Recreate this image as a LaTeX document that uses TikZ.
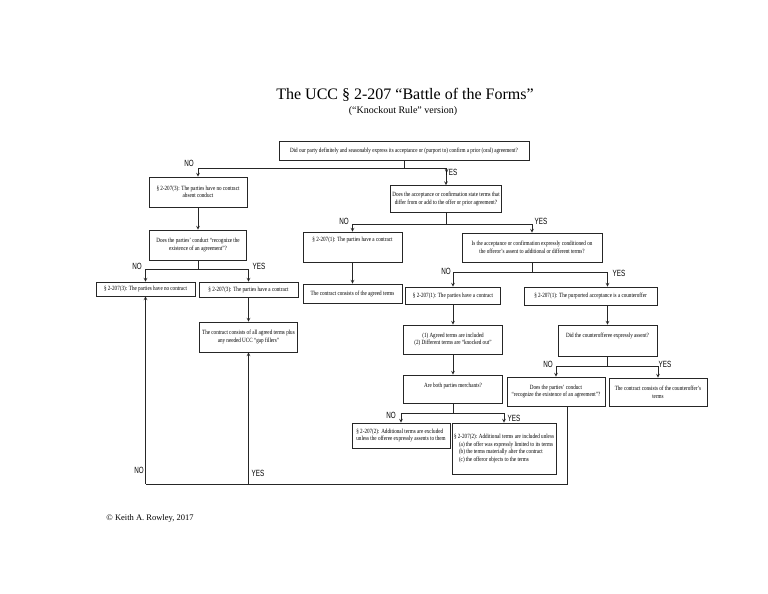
\documentclass[tikz,border=0pt]{standalone}
\usepackage{fontspec}
\setmainfont{Liberation Serif}
\newfontfamily\boxfont[FakeStretch=0.8]{Liberation Serif}
\newfontfamily\answerfont[FakeStretch=0.7]{Liberation Sans}
\usetikzlibrary{shapes,arrows,positioning,calc}

\begin{document}
\begin{tikzpicture}[
    x=1pt, y=-1pt,
    box/.style={rectangle, draw=black!85, line width=0.7pt, inner sep=2pt, align=center, font=\boxfont\fontsize{6.4}{7.6}\selectfont},
    link/.style={draw=black!85, line width=0.7pt},
    flow/.style={->, draw=black!85, line width=0.7pt, >=stealth},
    answer/.style={font=\answerfont\fontsize{9}{10}\selectfont, inner sep=0pt}
]
    \useasboundingbox (0,0) rectangle (768,594);

    % Title
    \node[font=\fontsize{16}{18}\selectfont] (title) at (405,95) {The UCC § 2-207 “Battle of the Forms”};
    \node[font=\fontsize{10}{12}\selectfont] (subtitle) at (403,111) {(“Knockout Rule” version)};

    % Questions and outcomes
    \node[box, minimum width=250pt, minimum height=19pt] (q1) at (404,150.5) {Did our party definitely and seasonably express its acceptance or (purport to) confirm a prior (oral) agreement?};
    \node[box, minimum width=98pt, minimum height=30pt] (n1) at (198,192) {§ 2-207(3): The parties have no contract\\absent conduct};
    \node[box, minimum width=110pt, minimum height=27pt] (q2) at (446,199) {Does the acceptance or confirmation state terms that\\differ from or add to the offer or prior agreement?};
    \node[box, minimum width=97pt, minimum height=30pt] (q3) at (198,245) {Does the parties’ conduct “recognize the\\existence of an agreement”?};
    \node[box, minimum width=99pt, minimum height=14pt] (r1) at (145.5,289) {§ 2-207(3): The parties have no contract};
    \node[box, minimum width=99pt, minimum height=15pt] (r2) at (248.5,289.5) {§ 2-207(3): The parties have a contract};
    \node[box, minimum width=98pt, minimum height=30pt] (r3) at (248.5,337) {The contract consists of all agreed terms plus\\any needed UCC “gap fillers”};
    \node[box, minimum width=99pt, minimum height=30pt, text depth=16pt] (s1) at (352.5,247) {§ 2-207(1): The parties have a contract};
    \node[box, minimum width=99pt, minimum height=19pt] (s2) at (352.5,293.5) {The contract consists of the agreed terms};
    \node[box, minimum width=140pt, minimum height=29pt] (q4) at (532,247.5) {Is the acceptance or confirmation expressly conditioned on\\the offeror’s assent to additional or different terms?};
    \node[box, minimum width=95pt, minimum height=17pt] (t1) at (453,295.5) {§ 2-207(1): The parties have a contract};
    \node[box, minimum width=133pt, minimum height=18pt] (u1) at (590.5,296) {§ 2-207(1): The purported acceptance is a counteroffer};
    \node[box, minimum width=99pt, minimum height=29pt] (t2) at (453,339.5) {(1) Agreed terms are included\\(2) Different terms are “knocked out”};
    \node[box, minimum width=99pt, minimum height=31pt, text depth=11pt] (u2) at (607.5,340.5) {Did the counterofferee expressly assent?};
    \node[box, minimum width=99pt, minimum height=28pt, text depth=8pt] (t3) at (453,389) {Are both parties merchants?};
    \node[box, minimum width=98pt, minimum height=29pt] (u3) at (556,391.5) {Does the parties’ conduct\\“recognize the existence of an agreement”?};
    \node[box, minimum width=98pt, minimum height=28pt] (u4) at (658,392) {The contract consists of the counteroffer’s\\terms};
    \node[box, minimum width=98pt, minimum height=25pt, align=left] (t4) at (401,435.5) {§ 2-207(2): Additional terms are excluded\\unless the offeree expressly assents to them};
    \node[box, minimum width=100pt, minimum height=51pt, align=left] (t5) at (504,448.5) {§ 2-207(2): Additional terms are included unless\\\hspace*{5pt}(a) the offer was expressly limited to its terms\\\hspace*{5pt}(b) the terms materially alter the contract\\\hspace*{5pt}(c) the offeror objects to the terms};

    % Branch points
    \coordinate (j1) at (404,168);
    \coordinate (j2) at (446,224);
    \coordinate (j3) at (198,269);
    \coordinate (j4) at (532,272);
    \coordinate (j5) at (453,413);
    \coordinate (j6) at (607.5,366);
    \coordinate (j7) at (567,484);

    % Connectors
    \draw[link] (q1) -- (j1);
    \draw[flow] (j1) -| (n1);
    \draw[flow] (j1) -| (q2);
    \draw[flow] (n1) -- (q3);
    \draw[link] (q3) -- (j3);
    \draw[flow] (j3) -| (r1);
    \draw[flow] (j3) -| (r2);
    \draw[flow] (r2) -- (r3);
    \draw[link] (q2) -- (j2);
    \draw[flow] (j2) -| (s1);
    \draw[flow] (j2) -| (q4);
    \draw[flow] (s1) -- (s2);
    \draw[link] (q4) -- (j4);
    \draw[flow] (j4) -| (t1);
    \draw[flow] (j4) -| (u1.north -| u2);
    \draw[flow] (t1) -- (t2);
    \draw[flow] (t2) -- (t3);
    \draw[flow] (u1.south -| u2) -- (u2);
    \draw[link] (t3) -- (j5);
    \draw[flow] (j5) -| (t4);
    \draw[flow] (j5) -| (t5);
    \draw[link] (u2) -- (j6);
    \draw[flow] (j6) -| (u3);
    \draw[flow] (j6) -| (u4);
    \draw[link] (u3.south -| j7) -- (j7) -- (j7 -| r1);
    \draw[flow] (j7 -| r1) -- (r1);
    \draw[flow] (j7 -| r3) -- (r3);

    % Answers
    \node[answer] (no1) at (189,163) {NO};
    \node[answer] (yes1) at (451,172) {YES};
    \node[answer] (no2) at (137,266) {NO};
    \node[answer] (yes2) at (259,266) {YES};
    \node[answer] (no3) at (344,221) {NO};
    \node[answer] (yes3) at (541,221) {YES};
    \node[answer] (no4) at (446,271) {NO};
    \node[answer] (yes4) at (619,273) {YES};
    \node[answer] (no5) at (391,415) {NO};
    \node[answer] (yes5) at (514,418) {YES};
    \node[answer] (no6) at (548,364) {NO};
    \node[answer] (yes6) at (665,364) {YES};
    \node[answer] (no7) at (139,470) {NO};
    \node[answer] (yes7) at (258,473) {YES};

    % Footer
    \node[font=\fontsize{8.5}{10}\selectfont] (credit) at (150,518) {© Keith A. Rowley, 2017};
\end{tikzpicture}
\end{document}
